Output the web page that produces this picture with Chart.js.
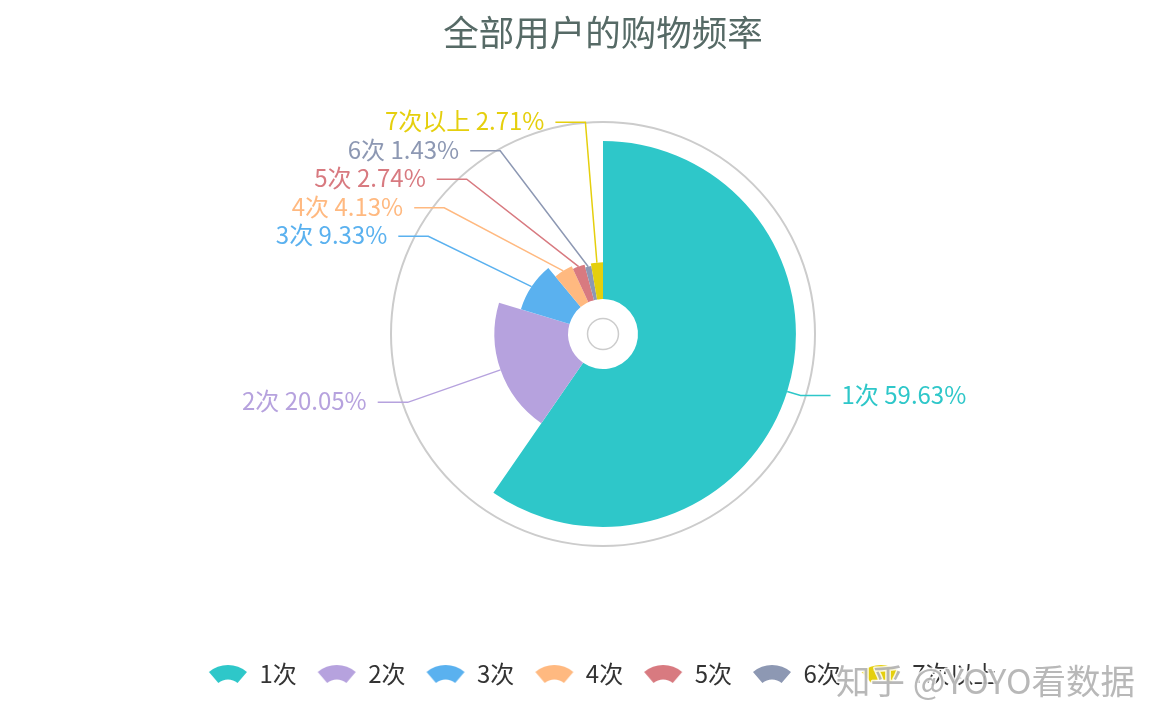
<!DOCTYPE html>
<html>
<head>
<meta charset="utf-8">
<script src="https://cdn.jsdelivr.net/npm/chart.js@4"></script>
<style>
  html, body { margin: 0; padding: 0; background: #fff; }
</style>
</head>
<body>
<canvas id="roseChart" width="1165" height="728"></canvas>
<script>
const titleText = '全部用户的购物频率';
const categories = ['1次', '2次', '3次', '4次', '5次', '6次', '7次以上'];
const percentValues = [59.63, 20.05, 9.33, 4.13, 2.74, 1.43, 2.71];
const sliceColors = ['#2ec7c9', '#b6a2de', '#5ab1ef', '#ffb980', '#d87a80', '#8d98b3', '#e5cf0d'];
const watermarkText = '知乎 @YOYO看数据';

const FONT = '"Noto Sans CJK SC", "Noto Sans", sans-serif';
Chart.defaults.font.family = FONT;

// little fan shaped icon for the legend
function makeIcon(color) {
  const c = document.createElement('canvas');
  c.width = 40;
  c.height = 20;
  const g = c.getContext('2d');
  const cx = 20, cy = 30.3, ro = 29.3, ri = 14.8;
  const half = Math.atan2(19, 22.3);
  g.beginPath();
  g.arc(cx, cy, ro, -Math.PI / 2 - half, -Math.PI / 2 + half);
  g.arc(cx, cy, ri, -Math.PI / 2 + half, -Math.PI / 2 - half, true);
  g.closePath();
  g.fillStyle = color;
  g.fill();
  return c;
}
const legendIcons = sliceColors.map(makeIcon);

const rosePlugin = {
  id: 'rose',
  // radius of each slice follows its value (rose chart, radius mode)
  afterDatasetsUpdate(chart) {
    const meta = chart.getDatasetMeta(0);
    const ring = meta.controller.outerRadius;
    const vals = chart.data.datasets[0].data;
    const vMin = Math.min(...vals), vMax = Math.max(...vals);
    const rMin = ring * 0.325, rMax = ring * 0.91;
    meta.data.forEach((arc, i) => {
      arc.outerRadius = rMin + (vals[i] - vMin) / (vMax - vMin) * (rMax - rMin);
    });
  },
  beforeDatasetsDraw(chart) {
    const meta = chart.getDatasetMeta(0);
    const ring = meta.controller.outerRadius;
    const arc = meta.data[0];
    const ctx = chart.ctx;
    ctx.save();
    ctx.strokeStyle = '#cccccc';
    ctx.lineWidth = 2;
    ctx.beginPath();
    ctx.arc(arc.x, arc.y, ring, 0, Math.PI * 2);
    ctx.stroke();
    ctx.lineWidth = 1.5;
    ctx.beginPath();
    ctx.arc(arc.x, arc.y, ring * 0.073, 0, Math.PI * 2);
    ctx.stroke();
    ctx.restore();
  },
  afterDatasetsDraw(chart) {
    const meta = chart.getDatasetMeta(0);
    const ring = meta.controller.outerRadius;
    const arcs = meta.data;
    const labels = chart.data.labels;
    const vals = chart.data.datasets[0].data;
    const cx = arcs[0].x, cy = arcs[0].y;
    const kneeR = Math.max(...arcs.map(a => a.outerRadius)) + 14;

    const items = arcs.map((arc, i) => {
      const mid = (arc.startAngle + arc.endAngle) / 2;
      const cos = Math.cos(mid), sin = Math.sin(mid);
      return {
        i: i,
        sx: cx + cos * arc.outerRadius,
        sy: cy + sin * arc.outerRadius,
        kx: cx + cos * kneeR,
        ky: cy + sin * kneeR,
        ny: cy + sin * kneeR,
        right: cos >= 0,
        moved: false
      };
    });

    // push overlapping labels down, pull the stack back up a bit,
    // then slide the moved ones along an ellipse
    const gap = 28.5;
    [true, false].forEach(side => {
      const list = items.filter(it => it.right === side).sort((a, b) => a.ky - b.ky);
      let clusterStart = 0;
      const clusters = [];
      for (let k = 1; k < list.length; k++) {
        if (list[k].ky < list[k - 1].ky + gap) {
          list[k].ky = list[k - 1].ky + gap;
          list[k].moved = true;
        } else {
          clusters.push(list.slice(clusterStart, k));
          clusterStart = k;
        }
      }
      clusters.push(list.slice(clusterStart));
      clusters.forEach(cl => {
        if (cl.length < 2) return;
        const last = cl[cl.length - 1];
        const lift = (last.ky - last.ny) / 4;
        cl.forEach(it => { it.ky -= lift; });
      });
      list.forEach(it => {
        if (!it.moved) return;
        const dy = it.ky - cy;
        const ax = ring * 0.925, by = ring * 1.015;
        const t = Math.max(0, 1 - dy * dy / (by * by));
        it.kx = cx + (side ? 1 : -1) * ax * Math.sqrt(t);
      });
    });

    const ctx = chart.ctx;
    ctx.save();
    ctx.lineWidth = 1.5;
    ctx.font = '24px ' + FONT;
    ctx.textBaseline = 'middle';
    items.forEach(it => {
      const color = sliceColors[it.i];
      const ex = it.kx + (it.right ? 30 : -30);
      ctx.strokeStyle = color;
      ctx.beginPath();
      ctx.moveTo(it.sx, it.sy);
      ctx.lineTo(it.kx, it.ky);
      ctx.lineTo(ex, it.ky);
      ctx.stroke();
      ctx.fillStyle = color;
      ctx.textAlign = it.right ? 'left' : 'right';
      ctx.fillText(labels[it.i] + ' ' + vals[it.i].toFixed(2) + '%', ex + (it.right ? 11 : -11), it.ky - 1);
    });
    ctx.restore();
  },
  afterDraw(chart) {
    const ctx = chart.ctx;
    ctx.save();
    ctx.font = '34.5px ' + FONT;
    ctx.textAlign = 'right';
    ctx.textBaseline = 'middle';
    ctx.lineJoin = 'round';
    ctx.lineWidth = 3;
    ctx.strokeStyle = 'rgba(255,255,255,0.85)';
    ctx.strokeText(watermarkText, chart.width - 30, 681);
    ctx.fillStyle = 'rgba(160,160,160,0.75)';
    ctx.fillText(watermarkText, chart.width - 30, 681);
    ctx.restore();
  }
};

const ctx = document.getElementById('roseChart').getContext('2d');
new Chart(ctx, {
  type: 'doughnut',
  data: {
    labels: categories,
    datasets: [{
      data: percentValues,
      backgroundColor: sliceColors,
      borderWidth: 0
    }]
  },
  options: {
    responsive: false,
    animation: false,
    events: [],
    radius: 212,
    cutout: '16.5%',
    layout: {
      padding: { left: 41, right: 0, top: 0, bottom: 32 }
    },
    plugins: {
      title: {
        display: true,
        text: titleText,
        color: '#566a66',
        font: { size: 35.5, weight: 'normal', lineHeight: 1.2 },
        padding: { top: 11.7, bottom: -27.8 }
      },
      legend: {
        position: 'bottom',
        labels: {
          usePointStyle: true,
          pointStyleWidth: 39,
          padding: 20.5,
          color: '#333',
          font: { size: 24 },
          generateLabels(chart) {
            return chart.data.labels.map((l, i) => ({
              text: l,
              fillStyle: sliceColors[i],
              strokeStyle: sliceColors[i],
              lineWidth: 0,
              pointStyle: legendIcons[i],
              fontColor: '#333',
              hidden: false,
              index: i
            }));
          }
        }
      },
      tooltip: { enabled: false }
    }
  },
  plugins: [rosePlugin]
});
</script>
</body>
</html>
